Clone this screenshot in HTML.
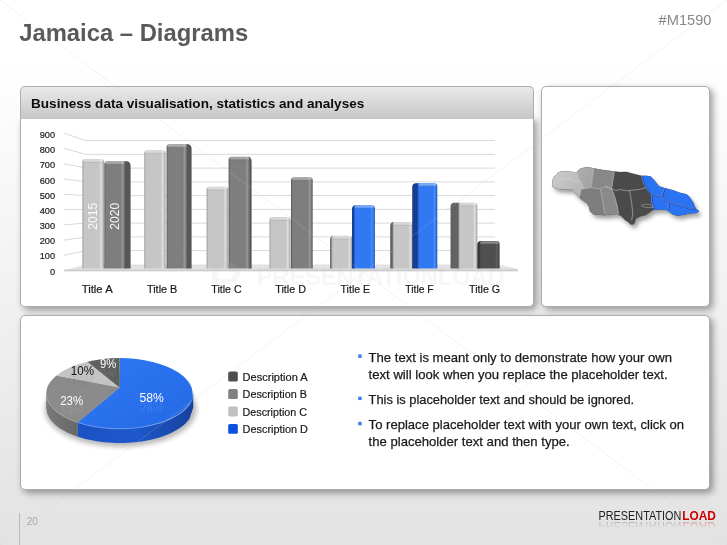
<!DOCTYPE html>
<html><head><meta charset="utf-8">
<style>
html,body{margin:0;padding:0;}
body{width:727px;height:545px;overflow:hidden;position:relative;font-family:"Liberation Sans",sans-serif;
background:linear-gradient(to bottom,#ffffff 0px,#ffffff 60px,#f4f4f4 250px,#e6e6e6 480px,#e3e3e3 545px);}
.pn{position:absolute;background:#fff;border:1px solid #adadad;border-radius:5px;box-sizing:border-box;}
#p1body{left:20px;top:117px;width:514px;height:190px;border-top:none;border-radius:0 0 5px 5px;box-shadow:3px 3px 7px rgba(0,0,0,0.38);}
#p1head{left:20px;top:86px;width:514px;height:33px;border-bottom:none;border-radius:5px 5px 0 0;background:linear-gradient(to bottom,#e9e9e9,#dadada 45%,#c6c6c6);}
#p2{left:541px;top:86px;width:169px;height:221px;box-shadow:3px 3px 7px rgba(0,0,0,0.38);}
#p3{left:20px;top:315px;width:690px;height:175px;box-shadow:3px 3px 7px rgba(0,0,0,0.38);}
svg{position:absolute;left:0;top:0;will-change:transform;}
</style></head>
<body>
<div class="pn" id="p1body"></div>
<div class="pn" id="p1head"></div>
<div class="pn" id="p2"></div>
<div class="pn" id="p3"></div>
<svg width="727" height="545" viewBox="0 0 727 545" font-family="Liberation Sans, sans-serif">
<!-- title -->
<text x="19.2" y="40.9" font-size="23.9" font-weight="bold" fill="#595959" textLength="229" lengthAdjust="spacingAndGlyphs">Jamaica – Diagrams</text>
<text x="658.6" y="25.2" font-size="14" fill="#888888" textLength="52.8" lengthAdjust="spacingAndGlyphs">#M1590</text>
<text x="31" y="107.6" font-size="12.6" font-weight="bold" fill="#0d0d0d" textLength="333.3" lengthAdjust="spacingAndGlyphs">Business data visualisation, statistics and analyses</text>
<!-- CHART -->
<defs><linearGradient id="bev" x1="0" y1="0" x2="0" y2="1"><stop offset="0" stop-color="#fff" stop-opacity="0.45"/><stop offset="0.6" stop-color="#fff" stop-opacity="0.2"/><stop offset="1" stop-color="#000" stop-opacity="0.06"/></linearGradient><linearGradient id="g1" x1="0" x2="1" y1="0" y2="0"><stop offset="0" stop-color="#9a9a9a"/><stop offset="0.08" stop-color="#c6c6c6"/><stop offset="0.78" stop-color="#c6c6c6"/><stop offset="0.86" stop-color="#dedede"/><stop offset="0.93" stop-color="#c6c6c6"/><stop offset="1" stop-color="#9a9a9a"/></linearGradient><linearGradient id="g2" x1="0" x2="1" y1="0" y2="0"><stop offset="0" stop-color="#585858"/><stop offset="0.08" stop-color="#7e7e7e"/><stop offset="0.78" stop-color="#7e7e7e"/><stop offset="0.86" stop-color="#989898"/><stop offset="0.93" stop-color="#7e7e7e"/><stop offset="1" stop-color="#585858"/></linearGradient><linearGradient id="g3" x1="0" x2="1" y1="0" y2="0"><stop offset="0" stop-color="#9a9a9a"/><stop offset="0.08" stop-color="#c6c6c6"/><stop offset="0.78" stop-color="#c6c6c6"/><stop offset="0.86" stop-color="#dedede"/><stop offset="0.93" stop-color="#c6c6c6"/><stop offset="1" stop-color="#9a9a9a"/></linearGradient><linearGradient id="g4" x1="0" x2="1" y1="0" y2="0"><stop offset="0" stop-color="#585858"/><stop offset="0.08" stop-color="#7e7e7e"/><stop offset="0.78" stop-color="#7e7e7e"/><stop offset="0.86" stop-color="#989898"/><stop offset="0.93" stop-color="#7e7e7e"/><stop offset="1" stop-color="#585858"/></linearGradient><linearGradient id="g5" x1="0" x2="1" y1="0" y2="0"><stop offset="0" stop-color="#9a9a9a"/><stop offset="0.08" stop-color="#c6c6c6"/><stop offset="0.78" stop-color="#c6c6c6"/><stop offset="0.86" stop-color="#dedede"/><stop offset="0.93" stop-color="#c6c6c6"/><stop offset="1" stop-color="#9a9a9a"/></linearGradient><linearGradient id="g6" x1="0" x2="1" y1="0" y2="0"><stop offset="0" stop-color="#585858"/><stop offset="0.08" stop-color="#7e7e7e"/><stop offset="0.78" stop-color="#7e7e7e"/><stop offset="0.86" stop-color="#989898"/><stop offset="0.93" stop-color="#7e7e7e"/><stop offset="1" stop-color="#585858"/></linearGradient><linearGradient id="g7" x1="0" x2="1" y1="0" y2="0"><stop offset="0" stop-color="#9a9a9a"/><stop offset="0.08" stop-color="#c6c6c6"/><stop offset="0.78" stop-color="#c6c6c6"/><stop offset="0.86" stop-color="#dedede"/><stop offset="0.93" stop-color="#c6c6c6"/><stop offset="1" stop-color="#9a9a9a"/></linearGradient><linearGradient id="g8" x1="0" x2="1" y1="0" y2="0"><stop offset="0" stop-color="#585858"/><stop offset="0.08" stop-color="#7e7e7e"/><stop offset="0.78" stop-color="#7e7e7e"/><stop offset="0.86" stop-color="#989898"/><stop offset="0.93" stop-color="#7e7e7e"/><stop offset="1" stop-color="#585858"/></linearGradient><linearGradient id="g9" x1="0" x2="1" y1="0" y2="0"><stop offset="0" stop-color="#9a9a9a"/><stop offset="0.08" stop-color="#c6c6c6"/><stop offset="0.78" stop-color="#c6c6c6"/><stop offset="0.86" stop-color="#dedede"/><stop offset="0.93" stop-color="#c6c6c6"/><stop offset="1" stop-color="#9a9a9a"/></linearGradient><linearGradient id="g10" x1="0" x2="1" y1="0" y2="0"><stop offset="0" stop-color="#1a4fc0"/><stop offset="0.08" stop-color="#3079f2"/><stop offset="0.78" stop-color="#3079f2"/><stop offset="0.86" stop-color="#4a8cf7"/><stop offset="0.93" stop-color="#3079f2"/><stop offset="1" stop-color="#1a4fc0"/></linearGradient><linearGradient id="g11" x1="0" x2="1" y1="0" y2="0"><stop offset="0" stop-color="#9a9a9a"/><stop offset="0.08" stop-color="#c6c6c6"/><stop offset="0.78" stop-color="#c6c6c6"/><stop offset="0.86" stop-color="#dedede"/><stop offset="0.93" stop-color="#c6c6c6"/><stop offset="1" stop-color="#9a9a9a"/></linearGradient><linearGradient id="g12" x1="0" x2="1" y1="0" y2="0"><stop offset="0" stop-color="#1a4fc0"/><stop offset="0.08" stop-color="#3079f2"/><stop offset="0.78" stop-color="#3079f2"/><stop offset="0.86" stop-color="#4a8cf7"/><stop offset="0.93" stop-color="#3079f2"/><stop offset="1" stop-color="#1a4fc0"/></linearGradient><linearGradient id="g13" x1="0" x2="1" y1="0" y2="0"><stop offset="0" stop-color="#9a9a9a"/><stop offset="0.08" stop-color="#c6c6c6"/><stop offset="0.78" stop-color="#c6c6c6"/><stop offset="0.86" stop-color="#dedede"/><stop offset="0.93" stop-color="#c6c6c6"/><stop offset="1" stop-color="#9a9a9a"/></linearGradient><linearGradient id="g14" x1="0" x2="1" y1="0" y2="0"><stop offset="0" stop-color="#3e3e3e"/><stop offset="0.08" stop-color="#4f4f4f"/><stop offset="0.78" stop-color="#4f4f4f"/><stop offset="0.86" stop-color="#5f5f5f"/><stop offset="0.93" stop-color="#4f4f4f"/><stop offset="1" stop-color="#3e3e3e"/></linearGradient></defs>
<polyline points="64.0,255.3 86.0,250.6 495.0,250.6" fill="none" stroke="#d9d9d9" stroke-width="1"/>
<polyline points="64.0,240.1 86.0,236.9 495.0,236.9" fill="none" stroke="#d9d9d9" stroke-width="1"/>
<polyline points="64.0,224.8 86.0,223.1 495.0,223.1" fill="none" stroke="#d9d9d9" stroke-width="1"/>
<polyline points="64.0,209.5 86.0,209.4 495.0,209.4" fill="none" stroke="#d9d9d9" stroke-width="1"/>
<polyline points="64.0,194.3 86.0,195.6 495.0,195.6" fill="none" stroke="#d9d9d9" stroke-width="1"/>
<polyline points="64.0,179.0 86.0,181.9 495.0,181.9" fill="none" stroke="#d9d9d9" stroke-width="1"/>
<polyline points="64.0,163.7 86.0,168.1 495.0,168.1" fill="none" stroke="#d9d9d9" stroke-width="1"/>
<polyline points="64.0,148.4 86.0,154.4 495.0,154.4" fill="none" stroke="#d9d9d9" stroke-width="1"/>
<polyline points="64.0,133.2 86.0,140.6 495.0,140.6" fill="none" stroke="#d9d9d9" stroke-width="1"/>
<polygon points="64.0,270.6 86.0,264.4 497,264.4 518,269.0 518,271.2 64.0,271.2" fill="#e2e2e2"/>
<polygon points="64.0,269.4 518,269.4 518,271.2 64.0,271.2" fill="#cdcdcd"/>
<text x="55.1" y="274.5" text-anchor="end" font-size="9.2" fill="#1a1a1a" stroke="#1a1a1a" stroke-width="0.2">0</text>
<text x="55.1" y="259.4" text-anchor="end" font-size="9.2" fill="#1a1a1a" stroke="#1a1a1a" stroke-width="0.2">100</text>
<text x="55.1" y="244.2" text-anchor="end" font-size="9.2" fill="#1a1a1a" stroke="#1a1a1a" stroke-width="0.2">200</text>
<text x="55.1" y="229.0" text-anchor="end" font-size="9.2" fill="#1a1a1a" stroke="#1a1a1a" stroke-width="0.2">300</text>
<text x="55.1" y="213.8" text-anchor="end" font-size="9.2" fill="#1a1a1a" stroke="#1a1a1a" stroke-width="0.2">400</text>
<text x="55.1" y="198.7" text-anchor="end" font-size="9.2" fill="#1a1a1a" stroke="#1a1a1a" stroke-width="0.2">500</text>
<text x="55.1" y="183.5" text-anchor="end" font-size="9.2" fill="#1a1a1a" stroke="#1a1a1a" stroke-width="0.2">600</text>
<text x="55.1" y="168.3" text-anchor="end" font-size="9.2" fill="#1a1a1a" stroke="#1a1a1a" stroke-width="0.2">700</text>
<text x="55.1" y="153.2" text-anchor="end" font-size="9.2" fill="#1a1a1a" stroke="#1a1a1a" stroke-width="0.2">800</text>
<text x="55.1" y="138.0" text-anchor="end" font-size="9.2" fill="#1a1a1a" stroke="#1a1a1a" stroke-width="0.2">900</text>
<text x="81.7" y="293.1" font-size="11" fill="#1a1a1a" stroke="#1a1a1a" stroke-width="0.2" textLength="31" lengthAdjust="spacingAndGlyphs">Title A</text>
<text x="147" y="293.1" font-size="11" fill="#1a1a1a" stroke="#1a1a1a" stroke-width="0.2" textLength="30.3" lengthAdjust="spacingAndGlyphs">Title B</text>
<text x="211.3" y="293.1" font-size="11" fill="#1a1a1a" stroke="#1a1a1a" stroke-width="0.2" textLength="30.4" lengthAdjust="spacingAndGlyphs">Title C</text>
<text x="275.3" y="293.1" font-size="11" fill="#1a1a1a" stroke="#1a1a1a" stroke-width="0.2" textLength="30.7" lengthAdjust="spacingAndGlyphs">Title D</text>
<text x="340.6" y="293.1" font-size="11" fill="#1a1a1a" stroke="#1a1a1a" stroke-width="0.2" textLength="29.4" lengthAdjust="spacingAndGlyphs">Title E</text>
<text x="405.3" y="293.1" font-size="11" fill="#1a1a1a" stroke="#1a1a1a" stroke-width="0.2" textLength="28.3" lengthAdjust="spacingAndGlyphs">Title F</text>
<text x="469.1" y="293.1" font-size="11" fill="#1a1a1a" stroke="#1a1a1a" stroke-width="0.2" textLength="31.1" lengthAdjust="spacingAndGlyphs">Title G</text>
<path d="M82.4,268.6 L82.4,162.0 Q82.4,159.0 85.4,159.0 L101.0,159.0 Q104.0,159.0 104.0,162.0 L104.0,268.6 Z" fill="url(#g1)"/>
<rect x="83.2" y="159.5" width="20.0" height="3.4" rx="1.5" fill="url(#bev)"/>
<path d="M130.6,268.6 L130.6,165.8 Q130.6,162.3 127.6,161.3 L124.3,161.3 L124.3,268.6 Z" fill="#575757"/>
<path d="M104.3,268.6 L104.3,164.3 Q104.3,161.3 107.3,161.3 L124.5,161.3 Q125.3,161.3 125.3,162.10000000000002 L125.3,268.6 Z" fill="url(#g2)"/>
<rect x="105.1" y="161.8" width="19.4" height="3.4" rx="1.5" fill="url(#bev)"/>
<path d="M144.3,268.6 L144.3,153.2 Q144.3,150.2 147.3,150.2 L162.6,150.2 Q165.6,150.2 165.6,153.2 L165.6,268.6 Z" fill="url(#g3)"/>
<rect x="145.1" y="150.7" width="19.7" height="3.4" rx="1.5" fill="url(#bev)"/>
<path d="M191.6,268.6 L191.6,148.8 Q191.6,145.3 188.6,144.3 L186.4,144.3 L186.4,268.6 Z" fill="#575757"/>
<path d="M166.6,268.6 L166.6,147.3 Q166.6,144.3 169.6,144.3 L186.6,144.3 Q187.4,144.3 187.4,145.10000000000002 L187.4,268.6 Z" fill="url(#g4)"/>
<rect x="167.4" y="144.8" width="19.2" height="3.4" rx="1.5" fill="url(#bev)"/>
<path d="M206.6,268.6 L206.6,189.8 Q206.6,186.8 209.6,186.8 L225.2,186.8 Q228.2,186.8 228.2,189.8 L228.2,268.6 Z" fill="url(#g5)"/>
<rect x="207.4" y="187.3" width="20.0" height="3.4" rx="1.5" fill="url(#bev)"/>
<path d="M251.6,268.6 L251.6,161.2 Q251.6,157.7 248.6,156.7 L249.1,156.7 L249.1,268.6 Z" fill="#575757"/>
<path d="M228.6,268.6 L228.6,159.7 Q228.6,156.7 231.6,156.7 L249.29999999999998,156.7 Q250.1,156.7 250.1,157.5 L250.1,268.6 Z" fill="url(#g6)"/>
<rect x="229.4" y="157.2" width="19.9" height="3.4" rx="1.5" fill="url(#bev)"/>
<path d="M269.5,268.6 L269.5,220.1 Q269.5,217.1 272.5,217.1 L287.6,217.1 Q290.6,217.1 290.6,220.1 L290.6,268.6 Z" fill="url(#g7)"/>
<rect x="270.3" y="217.6" width="19.5" height="3.4" rx="1.5" fill="url(#bev)"/>
<path d="M291.0,268.6 L291.0,180.3 Q291.0,177.3 294.0,177.3 L309.7,177.3 Q312.7,177.3 312.7,180.3 L312.7,268.6 Z" fill="url(#g8)"/>
<rect x="291.8" y="177.8" width="20.1" height="3.4" rx="1.5" fill="url(#bev)"/>
<path d="M330.1,268.6 L330.1,239.7 Q330.1,236.2 333.1,235.7 L332.3,235.7 L332.3,268.6 Z" fill="#626262"/>
<path d="M331.3,268.6 L331.3,236.5 Q331.3,235.7 332.1,235.7 L349.2,235.7 Q352.2,235.7 352.2,238.7 L352.2,268.6 Z" fill="url(#g9)"/>
<rect x="332.1" y="236.2" width="19.3" height="3.4" rx="1.5" fill="url(#bev)"/>
<path d="M352.0,268.6 L352.0,209.3 Q352.0,205.8 355.0,205.3 L354.8,205.3 L354.8,268.6 Z" fill="#173f8f"/>
<path d="M353.8,268.6 L353.8,206.10000000000002 Q353.8,205.3 354.6,205.3 L371.9,205.3 Q374.9,205.3 374.9,208.3 L374.9,268.6 Z" fill="url(#g10)"/>
<rect x="354.6" y="205.8" width="19.5" height="3.4" rx="1.5" fill="url(#bev)"/>
<path d="M390.2,268.6 L390.2,226.1 Q390.2,222.6 393.2,222.1 L393.7,222.1 L393.7,268.6 Z" fill="#626262"/>
<path d="M392.7,268.6 L392.7,222.9 Q392.7,222.1 393.5,222.1 L410.0,222.1 Q413.0,222.1 413.0,225.1 L413.0,268.6 Z" fill="url(#g11)"/>
<rect x="393.5" y="222.6" width="18.7" height="3.4" rx="1.5" fill="url(#bev)"/>
<path d="M412.2,268.6 L412.2,187.3 Q412.2,183.8 415.2,183.3 L418.5,183.3 L418.5,268.6 Z" fill="#173f8f"/>
<path d="M417.5,268.6 L417.5,184.10000000000002 Q417.5,183.3 418.3,183.3 L434.3,183.3 Q437.3,183.3 437.3,186.3 L437.3,268.6 Z" fill="url(#g12)"/>
<rect x="418.3" y="183.8" width="18.2" height="3.4" rx="1.5" fill="url(#bev)"/>
<path d="M450.5,268.6 L450.5,206.7 Q450.5,203.2 453.5,202.7 L459.5,202.7 L459.5,268.6 Z" fill="#626262"/>
<path d="M458.5,268.6 L458.5,203.5 Q458.5,202.7 459.3,202.7 L474.3,202.7 Q477.3,202.7 477.3,205.7 L477.3,268.6 Z" fill="url(#g13)"/>
<rect x="459.3" y="203.2" width="17.2" height="3.4" rx="1.5" fill="url(#bev)"/>
<path d="M477.3,268.6 L477.3,245.1 Q477.3,241.6 480.3,241.1 L480.3,241.1 L480.3,268.6 Z" fill="#333333"/>
<path d="M479.3,268.6 L479.3,241.9 Q479.3,241.1 480.1,241.1 L496.6,241.1 Q499.6,241.1 499.6,244.1 L499.6,268.6 Z" fill="url(#g14)"/>
<rect x="480.1" y="241.6" width="18.7" height="3.4" rx="1.5" fill="url(#bev)"/>
<text transform="translate(97.3,229.7) rotate(-90)" font-size="13" fill="#fafafa" textLength="27" lengthAdjust="spacingAndGlyphs">2015</text>
<text transform="translate(119.2,229.7) rotate(-90)" font-size="13" fill="#fafafa" textLength="27" lengthAdjust="spacingAndGlyphs">2020</text>
<!-- PIE -->
<defs><filter id="pshadow" x="-20%" y="-20%" width="140%" height="160%"><feGaussianBlur stdDeviation="2.5"/></filter><linearGradient id="pblue" x1="0" y1="0" x2="1" y2="1"><stop offset="0" stop-color="#2f7af3"/><stop offset="1" stop-color="#2468e6"/></linearGradient><linearGradient id="pbside" x1="0" y1="0" x2="1" y2="0"><stop offset="0" stop-color="#1b52c2"/><stop offset="0.5" stop-color="#1d58cc"/><stop offset="1" stop-color="#16419e"/></linearGradient><linearGradient id="pgside" x1="0" y1="0" x2="1" y2="0"><stop offset="0" stop-color="#7a7a7a"/><stop offset="1" stop-color="#676767"/></linearGradient><linearGradient id="refl" x1="0" y1="0" x2="0" y2="1"><stop offset="0" stop-color="#fff" stop-opacity="0.55"/><stop offset="1" stop-color="#fff" stop-opacity="0"/></linearGradient></defs>
<ellipse cx="120.7" cy="409.2" rx="76.0" ry="37.8" fill="#000" opacity="0.28" filter="url(#pshadow)"/>
<path d="M46.20,393.50 L47.25,399.45 L48.30,401.88 L49.35,403.72 L50.40,405.26 L51.45,406.60 L52.50,407.80 L53.55,408.89 L54.60,409.89 L55.65,410.82 L56.70,411.68 L57.75,412.50 L58.80,413.26 L59.85,413.99 L60.90,414.68 L61.95,415.34 L63.00,415.96 L64.05,416.56 L65.10,417.13 L66.15,417.68 L67.20,418.20 L68.25,418.71 L69.30,419.19 L70.35,419.66 L71.40,420.11 L72.45,420.54 L73.50,420.95 L74.55,421.35 L75.60,421.74 L76.65,422.11 L77.70,422.47 L77.70,436.67 L76.65,436.31 L75.60,435.94 L74.55,435.55 L73.50,435.15 L72.45,434.74 L71.40,434.31 L70.35,433.86 L69.30,433.39 L68.25,432.91 L67.20,432.40 L66.15,431.88 L65.10,431.33 L64.05,430.76 L63.00,430.16 L61.95,429.54 L60.90,428.88 L59.85,428.19 L58.80,427.46 L57.75,426.70 L56.70,425.88 L55.65,425.02 L54.60,424.09 L53.55,423.09 L52.50,422.00 L51.45,420.80 L50.40,419.46 L49.35,417.92 L48.30,416.08 L47.25,413.65 L46.20,407.70 Z" fill="url(#pgside)"/>
<path d="M77.70,422.47 L81.55,423.67 L85.40,424.72 L89.25,425.63 L93.10,426.41 L96.95,427.07 L100.80,427.61 L104.65,428.05 L108.50,428.39 L112.35,428.62 L116.20,428.76 L120.05,428.80 L123.90,428.74 L127.75,428.59 L131.60,428.33 L135.45,427.98 L139.30,427.52 L143.15,426.96 L147.00,426.27 L150.85,425.47 L154.70,424.54 L158.55,423.47 L162.40,422.23 L166.25,420.82 L170.10,419.19 L173.95,417.32 L177.80,415.12 L181.65,412.50 L185.50,409.23 L189.35,404.77 L193.20,393.50 L193.20,407.70 L189.35,418.97 L185.50,423.43 L181.65,426.70 L177.80,429.32 L173.95,431.52 L170.10,433.39 L166.25,435.02 L162.40,436.43 L158.55,437.67 L154.70,438.74 L150.85,439.67 L147.00,440.47 L143.15,441.16 L139.30,441.72 L135.45,442.18 L131.60,442.53 L127.75,442.79 L123.90,442.94 L120.05,443.00 L116.20,442.96 L112.35,442.82 L108.50,442.59 L104.65,442.25 L100.80,441.81 L96.95,441.27 L93.10,440.61 L89.25,439.83 L85.40,438.92 L81.55,437.87 L77.70,436.67 Z" fill="url(#pbside)"/>
<path d="M119.6,387.4 L119.6,358.0 A73.5,35.3 0 1 1 77.70,422.47 Z" fill="url(#pblue)"/>
<path d="M119.6,387.4 L77.70,422.47 A73.5,35.3 0 0 1 56.50,375.48 Z" fill="#8b8b8b"/>
<path d="M119.6,387.4 L56.50,375.48 A73.5,35.3 0 0 1 87.30,361.81 Z" fill="#c4c4c4"/>
<path d="M119.6,387.4 L87.30,361.81 A73.5,35.3 0 0 1 119.60,358.00 Z" fill="#5f5f5f"/>
<path d="M77.70,422.47 A73.5,35.3 0 0 0 193.20,393.50" fill="none" stroke="#6fa3ff" stroke-width="0.8" opacity="0.8"/>
<path d="M46.20,393.50 A73.5,35.3 0 0 0 77.70,422.47" fill="none" stroke="#b0b0b0" stroke-width="0.8" opacity="0.7"/>
<text x="100.1" y="368.2" font-size="13" fill="#ffffff" textLength="16.3" lengthAdjust="spacingAndGlyphs">9%</text>
<text transform="translate(0,737.4) scale(1,-1)" x="100.1" y="368.2" font-size="13" fill="#ffffff" opacity="0.08" textLength="16.3" lengthAdjust="spacingAndGlyphs">9%</text>
<text x="70.8" y="375.4" font-size="13" fill="#111111" textLength="23.1" lengthAdjust="spacingAndGlyphs">10%</text>
<text transform="translate(0,751.8) scale(1,-1)" x="70.8" y="375.4" font-size="13" fill="#111111" opacity="0.08" textLength="23.1" lengthAdjust="spacingAndGlyphs">10%</text>
<text x="60.2" y="404.9" font-size="13" fill="#ffffff" textLength="23.0" lengthAdjust="spacingAndGlyphs">23%</text>
<text transform="translate(0,810.8) scale(1,-1)" x="60.2" y="404.9" font-size="13" fill="#ffffff" opacity="0.08" textLength="23.0" lengthAdjust="spacingAndGlyphs">23%</text>
<text x="139.4" y="401.9" font-size="13" fill="#ffffff" textLength="24.3" lengthAdjust="spacingAndGlyphs">58%</text>
<text transform="translate(0,804.8) scale(1,-1)" x="139.4" y="401.9" font-size="13" fill="#ffffff" opacity="0.08" textLength="24.3" lengthAdjust="spacingAndGlyphs">58%</text>
<rect x="228.2" y="371.6" width="9.6" height="9.9" rx="1.6" fill="#4d4d4d"/>
<text x="242.6" y="380.9" font-size="10.8" fill="#1a1a1a" stroke="#1a1a1a" stroke-width="0.2" textLength="65" lengthAdjust="spacingAndGlyphs">Description A</text>
<rect x="228.2" y="389.1" width="9.6" height="9.9" rx="1.6" fill="#808080"/>
<text x="242.6" y="398.1" font-size="10.8" fill="#1a1a1a" stroke="#1a1a1a" stroke-width="0.2" textLength="64.4" lengthAdjust="spacingAndGlyphs">Description B</text>
<rect x="228.2" y="406.5" width="9.6" height="9.9" rx="1.6" fill="#c0c0c0"/>
<text x="242.6" y="415.6" font-size="10.8" fill="#1a1a1a" stroke="#1a1a1a" stroke-width="0.2" textLength="64.3" lengthAdjust="spacingAndGlyphs">Description C</text>
<rect x="228.2" y="423.9" width="9.6" height="9.9" rx="1.6" fill="#0a50e0"/>
<text x="242.6" y="433.2" font-size="10.8" fill="#1a1a1a" stroke="#1a1a1a" stroke-width="0.2" textLength="65.4" lengthAdjust="spacingAndGlyphs">Description D</text>
<!-- MAP -->
<defs><clipPath id="island"><polygon points="552.1,185.0 552.4,181.0 553.3,177.3 556.0,175.0 558.0,172.5 560.4,171.6 565.5,171.3 576.5,172.2 578.5,170.0 581.0,168.3 587.4,167.1 593.8,168.3 600.0,169.5 607.0,170.5 614.3,171.3 620.0,172.0 626.4,171.8 632.8,173.5 641.7,175.7 646.0,175.8 650.3,176.2 654.0,180.0 658.9,186.2 664.6,188.1 674.2,190.5 679.0,192.4 686.6,194.3 689.4,196.7 693.3,202.4 695.6,208.2 699.0,211.0 697.1,212.9 689.4,213.4 685.6,214.4 678.0,215.8 673.2,214.8 669.4,212.0 666.5,210.1 660.8,209.6 655.0,210.1 652.5,210.3 650.8,211.8 645.7,215.2 640.5,216.5 636.5,218.5 635.4,220.3 634.6,223.5 632.5,224.8 630.5,224.5 628.2,222.0 625.2,220.3 621.0,216.0 616.9,213.9 611.0,214.6 605.3,215.2 593.8,214.6 590.0,211.3 589.0,207.0 587.4,203.6 583.0,200.5 579.0,197.2 575.2,193.4 572.6,189.8 561.7,189.5 556.0,188.5 552.7,187.0"/></clipPath><filter id="mshadow" x="-10%" y="-20%" width="120%" height="160%"><feGaussianBlur stdDeviation="2.2"/></filter><linearGradient id="mwest" x1="0" y1="0" x2="1" y2="1"><stop offset="0" stop-color="#d2d2d2"/><stop offset="1" stop-color="#b0b0b0"/></linearGradient><linearGradient id="mstj" x1="0" y1="0" x2="1" y2="1"><stop offset="0" stop-color="#b0b0b0"/><stop offset="1" stop-color="#a0a0a0"/></linearGradient></defs>
<polygon points="554.6,188.5 554.9,184.5 555.8,180.8 558.5,178.5 560.5,176.0 562.9,175.1 568.0,174.8 579.0,175.7 581.0,173.5 583.5,171.8 589.9,170.6 596.3,171.8 602.5,173.0 609.5,174.0 616.8,174.8 622.5,175.5 628.9,175.3 635.3,177.0 644.2,179.2 648.5,179.3 652.8,179.7 656.5,183.5 661.4,189.7 667.1,191.6 676.7,194.0 681.5,195.9 689.1,197.8 691.9,200.2 695.8,205.9 698.1,211.7 701.5,214.5 699.6,216.4 691.9,216.9 688.1,217.9 680.5,219.3 675.7,218.3 671.9,215.5 669.0,213.6 663.3,213.1 657.5,213.6 655.0,213.8 653.3,215.3 648.2,218.7 643.0,220.0 639.0,222.0 637.9,223.8 637.1,227.0 635.0,228.3 633.0,228.0 630.7,225.5 627.7,223.8 623.5,219.5 619.4,217.4 613.5,218.1 607.8,218.7 596.3,218.1 592.5,214.8 591.5,210.5 589.9,207.1 585.5,204.0 581.5,200.7 577.7,196.9 575.1,193.3 564.2,193.0 558.5,192.0 555.2,190.5" fill="#000" opacity="0.38" filter="url(#mshadow)"/>
<g clip-path="url(#island)">
<rect x="545" y="160" width="160" height="70" fill="#4a4a4a"/>
<polygon points="545.0,160.0 576.5,160.0 576.5,172.2 579.0,178.1 583.5,186.5 584.5,188.6 581.0,189.5 580.5,193.0 579.0,197.9 570.0,205.0 545.0,205.0" fill="url(#mwest)"/>
<polygon points="576.5,160.0 594.3,160.0 593.8,168.3 592.5,178.0 591.2,187.6 584.5,188.6 583.5,186.5 579.0,178.1 576.5,172.2" fill="url(#mstj)"/>
<polygon points="594.3,160.0 614.6,160.0 614.3,171.3 613.0,180.0 611.8,188.2 605.3,186.3 600.2,188.9 591.2,187.6 592.5,178.0 593.8,168.3" fill="#888888"/>
<polygon points="581.0,189.5 584.5,188.6 591.2,187.6 600.2,188.9 602.0,198.0 603.5,206.0 604.7,213.9 605.0,222.0 575.0,222.0 579.0,197.9 580.5,193.0" fill="#7e7e7e"/>
<polygon points="600.2,188.9 605.3,186.3 611.8,188.9 614.5,196.0 617.0,205.0 618.8,213.9 619.5,222.0 605.0,222.0 604.7,213.9 603.5,206.0 602.0,198.0" fill="#8a8a8a"/>
<polygon points="641.7,170.0 641.7,175.7 643.2,182.4 647.5,190.0 651.3,193.9 651.7,198.6 651.3,201.5 652.7,205.3 654.1,208.2 652.0,214.0 705.0,230.0 705.0,170.0" fill="#2a73f2"/>
</g>
<polyline points="665.2,188.5 661.9,196.2 664.3,200.0 668.6,201.9 669.0,209.5" fill="none" stroke="#1748b4" stroke-width="1.6" opacity="0.85" clip-path="url(#island)"/>
<polyline points="668.6,201.9 676.6,204.8 684.3,206.2 689.1,208.6 695.8,208.6" fill="none" stroke="#1748b4" stroke-width="1.6" opacity="0.85" clip-path="url(#island)"/>
<polyline points="652.3,194.3 658.6,196.2 661.9,196.2" fill="none" stroke="#1748b4" stroke-width="1.6" opacity="0.85" clip-path="url(#island)"/>
<polyline points="642.3,176.1 643.8,182.8 648.1,190.4 651.9,194.3 652.3,199.0 651.9,201.9 653.3,205.7 654.7,208.6" fill="none" stroke="#1748b4" stroke-width="1.6" opacity="0.85" clip-path="url(#island)"/>
<polygon points="552.1,185.0 552.4,181.0 553.3,177.3 556.0,175.0 558.0,172.5 560.4,171.6 565.5,171.3 576.5,172.2 578.5,170.0 581.0,168.3 587.4,167.1 593.8,168.3 600.0,169.5 607.0,170.5 614.3,171.3 620.0,172.0 626.4,171.8 632.8,173.5 641.7,175.7 646.0,175.8 650.3,176.2 654.0,180.0 658.9,186.2 664.6,188.1 674.2,190.5 679.0,192.4 686.6,194.3 689.4,196.7 693.3,202.4 695.6,208.2 699.0,211.0 697.1,212.9 689.4,213.4 685.6,214.4 678.0,215.8 673.2,214.8 669.4,212.0 666.5,210.1 660.8,209.6 655.0,210.1 652.5,210.3 650.8,211.8 645.7,215.2 640.5,216.5 636.5,218.5 635.4,220.3 634.6,223.5 632.5,224.8 630.5,224.5 628.2,222.0 625.2,220.3 621.0,216.0 616.9,213.9 611.0,214.6 605.3,215.2 593.8,214.6 590.0,211.3 589.0,207.0 587.4,203.6 583.0,200.5 579.0,197.2 575.2,193.4 572.6,189.8 561.7,189.5 556.0,188.5 552.7,187.0" fill="none" stroke="#000" stroke-width="0.5" opacity="0.08"/>
<polyline points="576.5,172.2 579.0,178.1 583.5,186.5 584.5,188.6" fill="none" stroke="#d4d4d4" stroke-width="0.55" opacity="0.9"/>
<polyline points="593.8,168.3 592.5,178.0 591.2,187.6" fill="none" stroke="#d4d4d4" stroke-width="0.55" opacity="0.9"/>
<polyline points="614.3,171.3 613.0,180.0 611.8,188.2" fill="none" stroke="#d4d4d4" stroke-width="0.55" opacity="0.9"/>
<polyline points="581.0,189.5 584.5,188.6 591.2,187.6 600.2,188.9 605.3,186.3 611.8,188.9 616.0,190.5" fill="none" stroke="#d4d4d4" stroke-width="0.55" opacity="0.9"/>
<polyline points="581.0,189.5 580.5,193.0 579.0,197.9" fill="none" stroke="#d4d4d4" stroke-width="0.55" opacity="0.9"/>
<polyline points="600.2,188.9 602.0,198.0 603.5,206.0 604.7,213.9" fill="none" stroke="#d4d4d4" stroke-width="0.55" opacity="0.9"/>
<polyline points="605.3,186.3 611.8,188.9 614.5,196.0 617.0,205.0 618.8,213.9" fill="none" stroke="#d4d4d4" stroke-width="0.55" opacity="0.9"/>
<polyline points="553.3,182.5 557.0,181.5 561.0,179.0 570.7,178.6 575.2,181.2 581.0,181.8" fill="none" stroke="#d4d4d4" stroke-width="0.55" opacity="0.9"/>
<polyline points="616.0,190.5 620.0,189.5 627.7,190.8 633.0,190.0 639.3,189.5 645.7,187.6" fill="none" stroke="#d4d4d4" stroke-width="0.55" opacity="0.9"/>
<polyline points="629.6,190.8 631.6,202.4 632.8,213.9 631.6,220.3" fill="none" stroke="#d4d4d4" stroke-width="0.55" opacity="0.9"/>
<polyline points="664.6,188.1 661.3,195.8 663.7,199.6 668.0,201.5 668.4,209.1" fill="none" stroke="#9bb8f0" stroke-width="0.55" opacity="0.9"/>
<polyline points="668.0,201.5 676.0,204.4 683.7,205.8 688.5,208.2 695.2,208.2" fill="none" stroke="#9bb8f0" stroke-width="0.55" opacity="0.9"/>
<polyline points="651.7,193.9 658.0,195.8 661.3,195.8" fill="none" stroke="#9bb8f0" stroke-width="0.55" opacity="0.9"/>
<polyline points="641.7,175.7 643.2,182.4 647.5,190.0 651.3,193.9 651.7,198.6 651.3,201.5 652.7,205.3 654.1,208.2" fill="none" stroke="#9bb8f0" stroke-width="0.55" opacity="0.9"/>
<path d="M641.2,205.3 Q645,203.6 649.4,204.4 Q652,205.5 653.7,207.2 Q649,208.2 645,207.2 Q641.5,206.6 641.2,205.3 Z" fill="none" stroke="#a8a8a8" stroke-width="0.6"/>
<!-- watermark -->
<g opacity="0.2">
<line x1="0" y1="0" x2="727" y2="545" stroke="#c6c6c6" stroke-width="1"/>
<line x1="727" y1="0" x2="0" y2="545" stroke="#c6c6c6" stroke-width="1"/>
</g>
<g opacity="0.13" fill="#c0c0c0">
<text x="256.6" y="284.5" font-size="24.5" font-weight="bold" textLength="248" lengthAdjust="spacingAndGlyphs">PRESENTATIONLOAD</text>
<path d="M212,262 h14 a14,11 0 0 1 0,22 h-14 z M218,267 v12 h8 a8,6 0 0 0 0,-12 z" fill-rule="evenodd"/>
</g>
<!-- bullets -->
<g fill="#3f7ff0">
<rect x="358.2" y="354.4" width="3.5" height="3.5"/>
<rect x="358.2" y="396.6" width="3.5" height="3.5"/>
<rect x="358.2" y="421.8" width="3.5" height="3.5"/>
</g>
<g font-size="13.2" fill="#1a1a1a" stroke="#1a1a1a" stroke-width="0.25">
<text x="368.6" y="361.8" textLength="303.4" lengthAdjust="spacingAndGlyphs">The text is meant only to demonstrate how your own</text>
<text x="368.6" y="378.7" textLength="299" lengthAdjust="spacingAndGlyphs">text will look when you replace the placeholder text.</text>
<text x="368.6" y="403.9" textLength="265.6" lengthAdjust="spacingAndGlyphs">This is placeholder text and should be ignored.</text>
<text x="368.6" y="429.2" textLength="315.5" lengthAdjust="spacingAndGlyphs">To replace placeholder text with your own text, click on</text>
<text x="368.6" y="446" textLength="201.1" lengthAdjust="spacingAndGlyphs">the placeholder text and then type.</text>
</g>
<!-- footer -->
<line x1="19.5" y1="513" x2="19.5" y2="545" stroke="#b8b8b8" stroke-width="1"/>
<text x="26.7" y="524.8" font-size="10.8" fill="#a8a8a8" textLength="11.2" lengthAdjust="spacingAndGlyphs">20</text>
<defs><linearGradient id="lrefl" x1="0" y1="0" x2="0" y2="1"><stop offset="0" stop-color="#000" stop-opacity="0"/><stop offset="1" stop-color="#000" stop-opacity="1"/></linearGradient>
<mask id="lmask"><rect x="590" y="519" width="130" height="10" fill="url(#lrefl)"/></mask></defs>
<g id="logo">
<text x="598.5" y="519.8" font-size="11.9" fill="#222222" textLength="82.9" lengthAdjust="spacingAndGlyphs">PRESENTATION</text>
<text x="682.3" y="519.8" font-size="11.9" font-weight="bold" fill="#cc0000" textLength="33.6" lengthAdjust="spacingAndGlyphs">LOAD</text>
</g>
<mask id="lmask2" maskUnits="userSpaceOnUse" x="590" y="519" width="130" height="12"><rect x="590" y="520" width="130" height="10" fill="url(#lrefl2)"/></mask>
<linearGradient id="lrefl2" x1="0" y1="0" x2="0" y2="1"><stop offset="0" stop-color="#fff" stop-opacity="0.35"/><stop offset="0.8" stop-color="#fff" stop-opacity="0"/></linearGradient>
<g mask="url(#lmask2)"><g transform="translate(0,1041.6) scale(1,-1)">
<text x="598.5" y="519.8" font-size="11.9" fill="#222222" textLength="82.9" lengthAdjust="spacingAndGlyphs">PRESENTATION</text>
<text x="682.3" y="519.8" font-size="11.9" font-weight="bold" fill="#cc0000" textLength="33.6" lengthAdjust="spacingAndGlyphs">LOAD</text>
</g></g>
</svg>
</body></html>
